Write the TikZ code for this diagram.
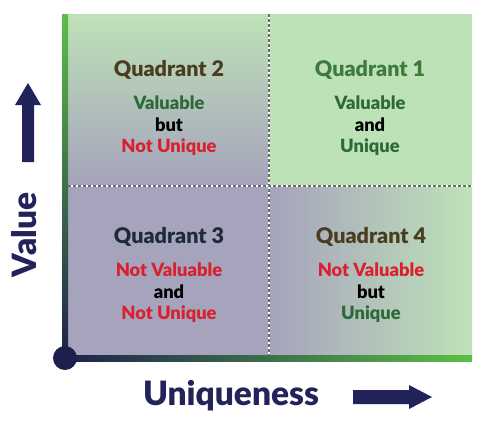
\documentclass[tikz,border=0pt]{standalone}
\usepackage{fontspec}
\setmainfont{Lato}[BoldFont={Lato Black}]
\definecolor{lgreen}{HTML}{BEE2B8}
\definecolor{lpurple}{HTML}{A6A3BC}
\definecolor{navy}{HTML}{22235A}
\definecolor{axgreen}{HTML}{5CBF47}
\definecolor{axnavy}{HTML}{1E1F4C}
\definecolor{tgreen}{HTML}{2B6A36}
\definecolor{tred}{HTML}{D8202F}
\definecolor{tbrown}{HTML}{4A3C1F}
\definecolor{tqgreen}{HTML}{3D7A3B}
\definecolor{tqnavy}{HTML}{1D2A38}
\begin{document}
\begin{tikzpicture}[x=1pt,y=-1pt,
  qtitle/.style={font=\fontsize{21.5}{24}\selectfont\bfseries},
  qsub/.style={font=\fontsize{18.3}{21.5}\selectfont\bfseries,align=center},
  axlabel/.style={font=\fontsize{33.5}{36}\selectfont\bfseries,text=navy},
  divider/.style={draw=gray!85!black,line width=1.2pt,dash pattern=on 3pt off 2pt}]
\useasboundingbox (0,0) rectangle (485,426);
\fill[white] (0,0) rectangle (485,426);
% quadrants
\fill[lgreen] (269,14) rectangle (472,186);
\shade[top color=lgreen,bottom color=lpurple] (66,14) rectangle (269,186);
\fill[lpurple] (66,186) rectangle (269,356);
\shade[left color=lpurple,right color=lgreen] (269,186) rectangle (472,356);
% dividers
\draw[white,line width=1.2pt] (269,14) -- (269,356);
\draw[white,line width=1.2pt] (68,186) -- (472,186);
\draw[divider] (269,14) -- (269,356);
\draw[divider] (68,186) -- (472,186);
\draw[white!90!gray,line width=0.8pt] (68,355) -- (472,355);
% axes
\shade[top color=axgreen,bottom color=axnavy] (62,14) rectangle (68,361);
\shade[left color=axnavy,right color=axgreen] (62,355) rectangle (472,361);
\fill[axnavy] (65,358) circle (12);
% texts
\node[qtitle,text=tbrown] (q2) at (169,70) {Quadrant 2};
\node[qsub] (q2s) at (169,126) {\textcolor{tgreen}{Valuable}\\\textcolor{black}{but}\\\textcolor{tred}{Not Unique}};
\node[qtitle,text=tqgreen] (q1) at (370,70) {Quadrant 1};
\node[qsub] (q1s) at (370,126) {\textcolor{tgreen}{Valuable}\\\textcolor{black}{and}\\\textcolor{tgreen}{Unique}};
\node[qtitle,text=tqnavy] (q3) at (169,237) {Quadrant 3};
\node[qsub] (q3s) at (169,293) {\textcolor{tred}{Not Valuable}\\\textcolor{black}{and}\\\textcolor{tred}{Not Unique}};
\node[qtitle,text=tbrown] (q4) at (371,237) {Quadrant 4};
\node[qsub] (q4s) at (371,293) {\textcolor{tred}{Not Valuable}\\\textcolor{black}{but}\\\textcolor{tgreen}{Unique}};
% axis labels
\node[axlabel,rotate=90] (val) at (24,235) {Value};
\node[axlabel] (uni) at (231,396) {Uniqueness};
% arrows
\fill[navy] (22,162) -- (22,105) -- (15,105) -- (28,83) -- (41,105) -- (34,105) -- (34,162) -- cycle;
\fill[navy] (353,390) -- (409,390) -- (409,385) -- (432,397) -- (409,409) -- (409,404) -- (353,404) -- cycle;
\end{tikzpicture}
\end{document}
